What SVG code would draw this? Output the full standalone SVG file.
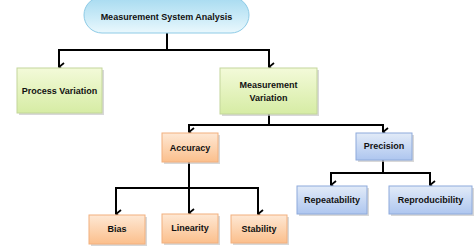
<svg xmlns="http://www.w3.org/2000/svg" width="474" height="252" viewBox="0 0 474 252">
<defs>
<linearGradient id="gBlueTop" x1="0" y1="0" x2="0" y2="1">
<stop offset="0" stop-color="#a6daf0"/><stop offset="0.6" stop-color="#cdecf8"/><stop offset="1" stop-color="#eaf8fd"/>
</linearGradient>
<linearGradient id="gGreen" x1="0" y1="0" x2="0" y2="1">
<stop offset="0" stop-color="#f3fad9"/><stop offset="1" stop-color="#d6eca4"/>
</linearGradient>
<linearGradient id="gOrange" x1="0" y1="0" x2="0" y2="1">
<stop offset="0" stop-color="#fee8d4"/><stop offset="1" stop-color="#fbbf8c"/>
</linearGradient>
<linearGradient id="gBlue" x1="0" y1="0" x2="0" y2="1">
<stop offset="0" stop-color="#e2ebf8"/><stop offset="1" stop-color="#aec6ef"/>
</linearGradient>
<marker id="arr" viewBox="0 0 10 10" refX="5" refY="9" markerWidth="10" markerHeight="10" markerUnits="userSpaceOnUse" orient="auto-start-reverse">
<path d="M1,4 L5,9 L9,4" fill="none" stroke="#000" stroke-width="1.8"/>
</marker>
</defs>
<style>
text{font-family:"Liberation Sans",Arial,sans-serif;font-weight:bold;font-size:9px;fill:#111;text-anchor:middle}
.sh{fill:#c8c8c8;opacity:0.7}
.green{fill:url(#gGreen);stroke:#c3d69b;stroke-width:1}
.orange{fill:url(#gOrange);stroke:#f2b07e;stroke-width:1}
.blue{fill:url(#gBlue);stroke:#8eaadb;stroke-width:1}
.top{fill:url(#gBlueTop);stroke:#8ecbe6;stroke-width:1}
.c{fill:none;stroke:#000;stroke-width:2}
.ca{fill:none;stroke:#000;stroke-width:2;marker-end:url(#arr)}
</style>
<rect width="474" height="252" fill="#fff"/>
<g id="connectors">
<path class="c" d="M167,33 V50 M59,50 H269 M269,114 V125 M189,125 H383 M189,162 V188 M116,188 H258 M383,160 V173 M331,173 H430"/>
<path class="ca" d="M59,49 V67"/>
<path class="ca" d="M269,49 V67"/>
<path class="ca" d="M189,124 V132"/>
<path class="ca" d="M383,124 V132"/>
<path class="ca" d="M116,187 V214"/>
<path class="ca" d="M189,187 V213"/>
<path class="ca" d="M258,187 V214"/>
<path class="ca" d="M331,172 V185"/>
<path class="ca" d="M430,172 V185"/>
</g>
<g id="n-msa">
<rect x="84" y="-3" width="165" height="36" rx="18" ry="18" class="top"/>
<text x="166.5" y="20">Measurement System Analysis</text>
</g>
<g id="n-process">
<rect x="19" y="70" width="85" height="45" class="sh"/>
<rect x="17" y="68" width="85" height="45" class="green"/>
<text x="59.5" y="94">Process Variation</text>
</g>
<g id="n-meas">
<rect x="222" y="70" width="97" height="46" class="sh"/>
<rect x="220" y="68" width="97" height="46" class="green"/>
<text x="268.5" y="88">Measurement</text>
<text x="268.5" y="101">Variation</text>
</g>
<g id="n-accuracy">
<rect x="164" y="135" width="56" height="29" class="sh"/>
<rect x="162" y="133" width="56" height="29" class="orange"/>
<text x="190" y="151">Accuracy</text>
</g>
<g id="n-precision">
<rect x="358" y="135" width="56" height="27" class="sh"/>
<rect x="356" y="133" width="56" height="27" class="blue"/>
<text x="384" y="149">Precision</text>
</g>
<g id="n-bias">
<rect x="91" y="217" width="56" height="29" class="sh"/>
<rect x="89" y="215" width="56" height="29" class="orange"/>
<text x="117" y="232">Bias</text>
</g>
<g id="n-linearity">
<rect x="164" y="216" width="56" height="29" class="sh"/>
<rect x="162" y="214" width="56" height="29" class="orange"/>
<text x="190" y="231">Linearity</text>
</g>
<g id="n-stability">
<rect x="233" y="217" width="56" height="28" class="sh"/>
<rect x="231" y="215" width="56" height="28" class="orange"/>
<text x="259" y="232">Stability</text>
</g>
<g id="n-repeat">
<rect x="299" y="188" width="70" height="28" class="sh"/>
<rect x="297" y="186" width="70" height="28" class="blue"/>
<text x="332" y="203">Repeatability</text>
</g>
<g id="n-repro">
<rect x="391" y="188" width="83" height="28" class="sh"/>
<rect x="389" y="186" width="83" height="28" class="blue"/>
<text x="430.5" y="203">Reproducibility</text>
</g>
</svg>
